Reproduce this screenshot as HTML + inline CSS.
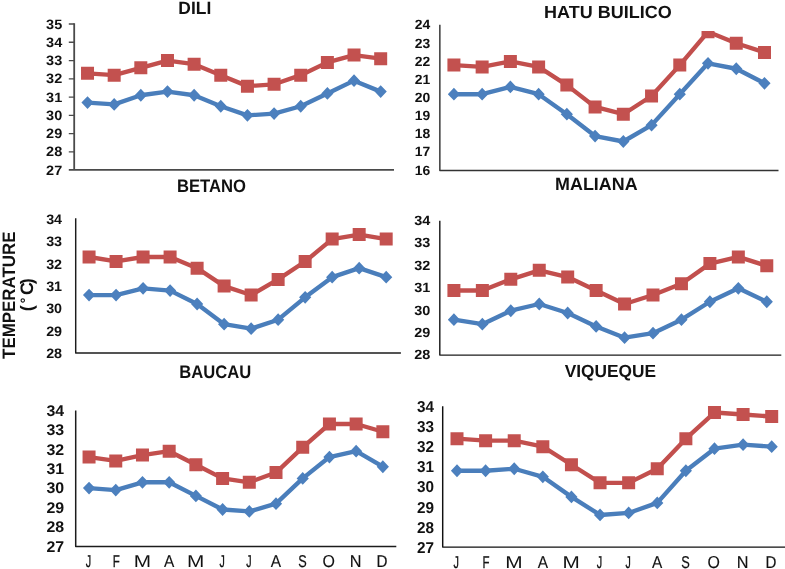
<!DOCTYPE html>
<html lang="en">
<head>
<meta charset="utf-8">
<title>Temperature charts</title>
<style>
html,body{margin:0;padding:0;background:#fff;}
body{width:785px;height:569px;overflow:hidden;}
svg{display:block;font-family:"Liberation Sans", sans-serif;fill:#111;text-rendering:geometricPrecision;filter:blur(0.35px);}
</style>
</head>
<body>
<svg width="785" height="569" viewBox="0 0 785 569">
<rect width="785" height="569" fill="#fff"/>
<g>
<path d="M74.2 23.3V169.9M68.8 169.9H394" fill="none" stroke="#4a4a4a" stroke-width="1.8"/>
<path d="M68.8 151.92H74.2M68.8 133.65H74.2M68.8 115.38H74.2M68.8 97.1H74.2M68.8 78.82H74.2M68.8 60.55H74.2M68.8 42.27H74.2M68.8 24H74.2" fill="none" stroke="#4a4a4a" stroke-width="1.3"/>
<text x="46.13" y="174.55" font-size="13.55" font-weight="bold" textLength="16.11" lengthAdjust="spacingAndGlyphs">27</text>
<text x="46.13" y="156.32" font-size="13.55" font-weight="bold" textLength="16.11" lengthAdjust="spacingAndGlyphs">28</text>
<text x="46.13" y="138.09" font-size="13.55" font-weight="bold" textLength="16.11" lengthAdjust="spacingAndGlyphs">29</text>
<text x="46.13" y="119.86" font-size="13.55" font-weight="bold" textLength="16.11" lengthAdjust="spacingAndGlyphs">30</text>
<text x="46.13" y="101.63" font-size="13.55" font-weight="bold" textLength="16.11" lengthAdjust="spacingAndGlyphs">31</text>
<text x="46.13" y="83.4" font-size="13.55" font-weight="bold" textLength="16.11" lengthAdjust="spacingAndGlyphs">32</text>
<text x="46.13" y="65.17" font-size="13.55" font-weight="bold" textLength="16.11" lengthAdjust="spacingAndGlyphs">33</text>
<text x="46.13" y="46.93" font-size="13.55" font-weight="bold" textLength="16.11" lengthAdjust="spacingAndGlyphs">34</text>
<text x="46.13" y="28.7" font-size="13.55" font-weight="bold" textLength="16.11" lengthAdjust="spacingAndGlyphs">35</text>
<text x="178.36" y="13.6" font-size="17.88" font-weight="bold" textLength="32.9" lengthAdjust="spacingAndGlyphs">DILI</text>
<polyline points="87.53,102.58 114.18,104.41 140.82,95.27 167.48,91.62 194.12,95.27 220.78,106.24 247.43,115.38 274.08,113.55 300.73,106.24 327.38,93.45 354.03,80.65 380.68,91.62" fill="none" stroke="#4A7EBB" stroke-width="4.35" stroke-linejoin="round" stroke-linecap="round"/>
<path d="M87.53 96.18l6.1 6.4l-6.1 6.4l-6.1 -6.4zM114.18 98.01l6.1 6.4l-6.1 6.4l-6.1 -6.4zM140.82 88.87l6.1 6.4l-6.1 6.4l-6.1 -6.4zM167.48 85.22l6.1 6.4l-6.1 6.4l-6.1 -6.4zM194.12 88.87l6.1 6.4l-6.1 6.4l-6.1 -6.4zM220.78 99.84l6.1 6.4l-6.1 6.4l-6.1 -6.4zM247.43 108.97l6.1 6.4l-6.1 6.4l-6.1 -6.4zM274.08 107.15l6.1 6.4l-6.1 6.4l-6.1 -6.4zM300.73 99.84l6.1 6.4l-6.1 6.4l-6.1 -6.4zM327.38 87.05l6.1 6.4l-6.1 6.4l-6.1 -6.4zM354.03 74.25l6.1 6.4l-6.1 6.4l-6.1 -6.4zM380.68 85.22l6.1 6.4l-6.1 6.4l-6.1 -6.4z" fill="#4C80BE"/>
<polyline points="87.53,73.34 114.18,75.17 140.82,67.86 167.48,60.55 194.12,64.21 220.78,75.17 247.43,86.13 274.08,84.31 300.73,75.17 327.38,62.38 354.03,55.07 380.68,58.72" fill="none" stroke="#C24F4D" stroke-width="4.35" stroke-linejoin="round" stroke-linecap="round"/>
<path d="M81.03 66.84h13v13h-13zM107.68 68.67h13v13h-13zM134.32 61.36h13v13h-13zM160.98 54.05h13v13h-13zM187.62 57.71h13v13h-13zM214.28 68.67h13v13h-13zM240.93 79.63h13v13h-13zM267.58 77.81h13v13h-13zM294.23 68.67h13v13h-13zM320.88 55.88h13v13h-13zM347.53 48.57h13v13h-13zM374.18 52.22h13v13h-13z" fill="#C3514F"/>
</g>
<g>
<path d="M439.85 24.8V170.5H778.5" fill="none" stroke="#333" stroke-width="1.45" stroke-linejoin="round"/>
<text x="414.85" y="174.5" font-size="13.41" font-weight="bold" textLength="15.47" lengthAdjust="spacingAndGlyphs">16</text>
<text x="414.85" y="156.37" font-size="13.41" font-weight="bold" textLength="15.47" lengthAdjust="spacingAndGlyphs">17</text>
<text x="414.85" y="138.24" font-size="13.41" font-weight="bold" textLength="15.47" lengthAdjust="spacingAndGlyphs">18</text>
<text x="414.85" y="120.11" font-size="13.41" font-weight="bold" textLength="15.47" lengthAdjust="spacingAndGlyphs">19</text>
<text x="414.85" y="101.98" font-size="13.41" font-weight="bold" textLength="15.47" lengthAdjust="spacingAndGlyphs">20</text>
<text x="414.85" y="83.85" font-size="13.41" font-weight="bold" textLength="15.47" lengthAdjust="spacingAndGlyphs">21</text>
<text x="414.85" y="65.72" font-size="13.41" font-weight="bold" textLength="15.47" lengthAdjust="spacingAndGlyphs">22</text>
<text x="414.85" y="47.59" font-size="13.41" font-weight="bold" textLength="15.47" lengthAdjust="spacingAndGlyphs">23</text>
<text x="414.85" y="29.45" font-size="13.41" font-weight="bold" textLength="15.47" lengthAdjust="spacingAndGlyphs">24</text>
<text x="544.1" y="18.1" font-size="17.6" font-weight="bold" textLength="127.76" lengthAdjust="spacingAndGlyphs">HATU BUILICO</text>
<clipPath id="cp1"><rect x="439.8" y="31.1" width="400" height="200"/></clipPath>
<g clip-path="url(#cp1)"><polyline points="453.92,94.21 482.15,94.21 510.38,86.94 538.62,94.21 566.85,114.22 595.08,136.04 623.32,141.5 651.55,125.13 679.78,94.21 708.02,63.29 736.25,68.75 764.48,83.3" fill="none" stroke="#4A7EBB" stroke-width="4.35" stroke-linejoin="round" stroke-linecap="round"/><path d="M453.92 87.81l6.1 6.4l-6.1 6.4l-6.1 -6.4zM482.15 87.81l6.1 6.4l-6.1 6.4l-6.1 -6.4zM510.38 80.54l6.1 6.4l-6.1 6.4l-6.1 -6.4zM538.62 87.81l6.1 6.4l-6.1 6.4l-6.1 -6.4zM566.85 107.82l6.1 6.4l-6.1 6.4l-6.1 -6.4zM595.08 129.64l6.1 6.4l-6.1 6.4l-6.1 -6.4zM623.32 135.1l6.1 6.4l-6.1 6.4l-6.1 -6.4zM651.55 118.73l6.1 6.4l-6.1 6.4l-6.1 -6.4zM679.78 87.81l6.1 6.4l-6.1 6.4l-6.1 -6.4zM708.02 56.89l6.1 6.4l-6.1 6.4l-6.1 -6.4zM736.25 62.35l6.1 6.4l-6.1 6.4l-6.1 -6.4zM764.48 76.9l6.1 6.4l-6.1 6.4l-6.1 -6.4z" fill="#4C80BE"/><polyline points="453.92,65.11 482.15,66.93 510.38,61.48 538.62,66.93 566.85,85.12 595.08,106.94 623.32,114.22 651.55,96.03 679.78,65.11 708.02,31.83 736.25,43.29 764.48,52.38" fill="none" stroke="#C24F4D" stroke-width="4.35" stroke-linejoin="round" stroke-linecap="round"/><path d="M447.42 58.61h13v13h-13zM475.65 60.43h13v13h-13zM503.88 54.98h13v13h-13zM532.12 60.43h13v13h-13zM560.35 78.62h13v13h-13zM588.58 100.44h13v13h-13zM616.82 107.72h13v13h-13zM645.05 89.53h13v13h-13zM673.28 58.61h13v13h-13zM701.52 25.33h13v13h-13zM729.75 36.79h13v13h-13zM757.98 45.88h13v13h-13z" fill="#C3514F"/></g>
</g>
<g>
<path d="M75.7 218.3V352.9H400.9" fill="none" stroke="#1c1c1c" stroke-width="1.45" stroke-linejoin="round"/>
<text x="46.15" y="358" font-size="13.69" font-weight="bold" textLength="15.95" lengthAdjust="spacingAndGlyphs">28</text>
<text x="46.15" y="335.64" font-size="13.69" font-weight="bold" textLength="15.95" lengthAdjust="spacingAndGlyphs">29</text>
<text x="46.15" y="313.27" font-size="13.69" font-weight="bold" textLength="15.95" lengthAdjust="spacingAndGlyphs">30</text>
<text x="46.15" y="290.9" font-size="13.69" font-weight="bold" textLength="15.95" lengthAdjust="spacingAndGlyphs">31</text>
<text x="46.15" y="268.54" font-size="13.69" font-weight="bold" textLength="15.95" lengthAdjust="spacingAndGlyphs">32</text>
<text x="46.15" y="246.17" font-size="13.69" font-weight="bold" textLength="15.95" lengthAdjust="spacingAndGlyphs">33</text>
<text x="46.15" y="223.8" font-size="13.69" font-weight="bold" textLength="15.95" lengthAdjust="spacingAndGlyphs">34</text>
<text x="176.96" y="191.6" font-size="18.02" font-weight="bold" textLength="69.08" lengthAdjust="spacingAndGlyphs">BETANO</text>
<polyline points="89.06,295.06 116.07,295.06 143.08,288.34 170.09,290.58 197.11,304.02 224.12,324.18 251.13,328.66 278.14,319.7 305.16,297.3 332.17,277.14 359.18,268.18 386.19,277.14" fill="none" stroke="#4A7EBB" stroke-width="4.35" stroke-linejoin="round" stroke-linecap="round"/>
<path d="M89.06 288.66l6.1 6.4l-6.1 6.4l-6.1 -6.4zM116.07 288.66l6.1 6.4l-6.1 6.4l-6.1 -6.4zM143.08 281.94l6.1 6.4l-6.1 6.4l-6.1 -6.4zM170.09 284.18l6.1 6.4l-6.1 6.4l-6.1 -6.4zM197.11 297.62l6.1 6.4l-6.1 6.4l-6.1 -6.4zM224.12 317.78l6.1 6.4l-6.1 6.4l-6.1 -6.4zM251.13 322.26l6.1 6.4l-6.1 6.4l-6.1 -6.4zM278.14 313.3l6.1 6.4l-6.1 6.4l-6.1 -6.4zM305.16 290.9l6.1 6.4l-6.1 6.4l-6.1 -6.4zM332.17 270.74l6.1 6.4l-6.1 6.4l-6.1 -6.4zM359.18 261.78l6.1 6.4l-6.1 6.4l-6.1 -6.4zM386.19 270.74l6.1 6.4l-6.1 6.4l-6.1 -6.4z" fill="#4C80BE"/>
<polyline points="89.06,256.98 116.07,261.46 143.08,256.98 170.09,256.98 197.11,268.18 224.12,286.1 251.13,295.06 278.14,279.38 305.16,261.46 332.17,239.06 359.18,234.58 386.19,239.06" fill="none" stroke="#C24F4D" stroke-width="4.35" stroke-linejoin="round" stroke-linecap="round"/>
<path d="M82.56 250.48h13v13h-13zM109.57 254.96h13v13h-13zM136.58 250.48h13v13h-13zM163.59 250.48h13v13h-13zM190.61 261.68h13v13h-13zM217.62 279.6h13v13h-13zM244.63 288.56h13v13h-13zM271.64 272.88h13v13h-13zM298.66 254.96h13v13h-13zM325.67 232.56h13v13h-13zM352.68 228.08h13v13h-13zM379.69 232.56h13v13h-13z" fill="#C3514F"/>
</g>
<g>
<path d="M439.8 220.8V355.1H781.3" fill="none" stroke="#1c1c1c" stroke-width="1.45" stroke-linejoin="round"/>
<text x="414.35" y="359.4" font-size="13.41" font-weight="bold" textLength="16.07" lengthAdjust="spacingAndGlyphs">28</text>
<text x="414.35" y="337.02" font-size="13.41" font-weight="bold" textLength="16.07" lengthAdjust="spacingAndGlyphs">29</text>
<text x="414.35" y="314.64" font-size="13.41" font-weight="bold" textLength="16.07" lengthAdjust="spacingAndGlyphs">30</text>
<text x="414.35" y="292.25" font-size="13.41" font-weight="bold" textLength="16.07" lengthAdjust="spacingAndGlyphs">31</text>
<text x="414.35" y="269.87" font-size="13.41" font-weight="bold" textLength="16.07" lengthAdjust="spacingAndGlyphs">32</text>
<text x="414.35" y="247.49" font-size="13.41" font-weight="bold" textLength="16.07" lengthAdjust="spacingAndGlyphs">33</text>
<text x="414.35" y="225.1" font-size="13.41" font-weight="bold" textLength="16.07" lengthAdjust="spacingAndGlyphs">34</text>
<text x="555.12" y="190.3" font-size="17.74" font-weight="bold" textLength="82.44" lengthAdjust="spacingAndGlyphs">MALIANA</text>
<polyline points="453.92,319.71 482.36,324.19 510.8,310.73 539.25,304 567.69,312.98 596.13,326.44 624.57,337.65 653.01,333.17 681.45,319.71 709.9,301.76 738.34,288.3 766.78,301.76" fill="none" stroke="#4A7EBB" stroke-width="4.35" stroke-linejoin="round" stroke-linecap="round"/>
<path d="M453.92 313.31l6.1 6.4l-6.1 6.4l-6.1 -6.4zM482.36 317.79l6.1 6.4l-6.1 6.4l-6.1 -6.4zM510.8 304.33l6.1 6.4l-6.1 6.4l-6.1 -6.4zM539.25 297.6l6.1 6.4l-6.1 6.4l-6.1 -6.4zM567.69 306.58l6.1 6.4l-6.1 6.4l-6.1 -6.4zM596.13 320.04l6.1 6.4l-6.1 6.4l-6.1 -6.4zM624.57 331.25l6.1 6.4l-6.1 6.4l-6.1 -6.4zM653.01 326.77l6.1 6.4l-6.1 6.4l-6.1 -6.4zM681.45 313.31l6.1 6.4l-6.1 6.4l-6.1 -6.4zM709.9 295.36l6.1 6.4l-6.1 6.4l-6.1 -6.4zM738.34 281.9l6.1 6.4l-6.1 6.4l-6.1 -6.4zM766.78 295.36l6.1 6.4l-6.1 6.4l-6.1 -6.4z" fill="#4C80BE"/>
<polyline points="453.92,290.54 482.36,290.54 510.8,279.33 539.25,270.35 567.69,277.08 596.13,290.54 624.57,304 653.01,295.03 681.45,283.81 709.9,263.62 738.34,256.89 766.78,265.87" fill="none" stroke="#C24F4D" stroke-width="4.35" stroke-linejoin="round" stroke-linecap="round"/>
<path d="M447.42 284.04h13v13h-13zM475.86 284.04h13v13h-13zM504.3 272.83h13v13h-13zM532.75 263.85h13v13h-13zM561.19 270.58h13v13h-13zM589.63 284.04h13v13h-13zM618.07 297.5h13v13h-13zM646.51 288.53h13v13h-13zM674.95 277.31h13v13h-13zM703.4 257.12h13v13h-13zM731.84 250.39h13v13h-13zM760.28 259.37h13v13h-13z" fill="#C3514F"/>
</g>
<g>
<path d="M75.7 410.4V546.6H396.3" fill="none" stroke="#1c1c1c" stroke-width="1.5" stroke-linejoin="round"/>
<text x="46.45" y="551.64" font-size="15.5" font-weight="bold" textLength="17.73" lengthAdjust="spacingAndGlyphs">27</text>
<text x="46.45" y="532.25" font-size="15.5" font-weight="bold" textLength="17.73" lengthAdjust="spacingAndGlyphs">28</text>
<text x="46.45" y="512.87" font-size="15.5" font-weight="bold" textLength="17.73" lengthAdjust="spacingAndGlyphs">29</text>
<text x="46.45" y="493.48" font-size="15.5" font-weight="bold" textLength="17.73" lengthAdjust="spacingAndGlyphs">30</text>
<text x="46.45" y="474.1" font-size="15.5" font-weight="bold" textLength="17.73" lengthAdjust="spacingAndGlyphs">31</text>
<text x="46.45" y="454.71" font-size="15.5" font-weight="bold" textLength="17.73" lengthAdjust="spacingAndGlyphs">32</text>
<text x="46.45" y="435.32" font-size="15.5" font-weight="bold" textLength="17.73" lengthAdjust="spacingAndGlyphs">33</text>
<text x="46.45" y="415.94" font-size="15.5" font-weight="bold" textLength="17.73" lengthAdjust="spacingAndGlyphs">34</text>
<text x="179.2" y="377.9" font-size="18.16" font-weight="bold" textLength="71.94" lengthAdjust="spacingAndGlyphs">BAUCAU</text>
<polyline points="89.05,488.11 115.76,490.06 142.47,482.29 169.18,482.29 195.89,495.89 222.6,509.49 249.3,511.43 276.01,503.66 302.72,478.4 329.43,457.03 356.14,451.2 382.85,466.74" fill="none" stroke="#4A7EBB" stroke-width="4.35" stroke-linejoin="round" stroke-linecap="round"/>
<path d="M89.05 481.71l6.1 6.4l-6.1 6.4l-6.1 -6.4zM115.76 483.66l6.1 6.4l-6.1 6.4l-6.1 -6.4zM142.47 475.89l6.1 6.4l-6.1 6.4l-6.1 -6.4zM169.18 475.89l6.1 6.4l-6.1 6.4l-6.1 -6.4zM195.89 489.49l6.1 6.4l-6.1 6.4l-6.1 -6.4zM222.6 503.09l6.1 6.4l-6.1 6.4l-6.1 -6.4zM249.3 505.03l6.1 6.4l-6.1 6.4l-6.1 -6.4zM276.01 497.26l6.1 6.4l-6.1 6.4l-6.1 -6.4zM302.72 472l6.1 6.4l-6.1 6.4l-6.1 -6.4zM329.43 450.63l6.1 6.4l-6.1 6.4l-6.1 -6.4zM356.14 444.8l6.1 6.4l-6.1 6.4l-6.1 -6.4zM382.85 460.34l6.1 6.4l-6.1 6.4l-6.1 -6.4z" fill="#4C80BE"/>
<polyline points="89.05,457.03 115.76,460.91 142.47,455.09 169.18,451.2 195.89,464.8 222.6,478.4 249.3,482.29 276.01,472.57 302.72,447.31 329.43,424 356.14,424 382.85,431.77" fill="none" stroke="#C24F4D" stroke-width="4.35" stroke-linejoin="round" stroke-linecap="round"/>
<path d="M82.55 450.53h13v13h-13zM109.26 454.41h13v13h-13zM135.97 448.59h13v13h-13zM162.68 444.7h13v13h-13zM189.39 458.3h13v13h-13zM216.1 471.9h13v13h-13zM242.8 475.79h13v13h-13zM269.51 466.07h13v13h-13zM296.22 440.81h13v13h-13zM322.93 417.5h13v13h-13zM349.64 417.5h13v13h-13zM376.35 425.27h13v13h-13z" fill="#C3514F"/>
<text x="85.74" y="567" font-size="17.2" textLength="5.43" lengthAdjust="spacingAndGlyphs" stroke="#111" stroke-width="0.3">J</text>
<text x="112.65" y="567" font-size="17.2" textLength="7.03" lengthAdjust="spacingAndGlyphs" stroke="#111" stroke-width="0.3">F</text>
<text x="133.7" y="567" font-size="17.2" textLength="17.33" lengthAdjust="spacingAndGlyphs">M</text>
<text x="163.99" y="567" font-size="17.2" textLength="10.31" lengthAdjust="spacingAndGlyphs" stroke="#111" stroke-width="0.1">A</text>
<text x="186.96" y="567" font-size="17.2" textLength="17.32" lengthAdjust="spacingAndGlyphs">M</text>
<text x="219.6" y="567" font-size="17.2" textLength="5.32" lengthAdjust="spacingAndGlyphs" stroke="#111" stroke-width="0.3">J</text>
<text x="246.16" y="567" font-size="17.2" textLength="5.35" lengthAdjust="spacingAndGlyphs" stroke="#111" stroke-width="0.3">J</text>
<text x="270.77" y="567" font-size="17.2" textLength="10.33" lengthAdjust="spacingAndGlyphs" stroke="#111" stroke-width="0.1">A</text>
<text x="298.34" y="567" font-size="17.2" textLength="8.48" lengthAdjust="spacingAndGlyphs" stroke="#111" stroke-width="0.2">S</text>
<text x="322.56" y="567" font-size="17.2" textLength="12.41" lengthAdjust="spacingAndGlyphs" stroke="#111" stroke-width="0.1">O</text>
<text x="349.77" y="567" font-size="17.2" textLength="11.73" lengthAdjust="spacingAndGlyphs" stroke="#111" stroke-width="0.15">N</text>
<text x="376.58" y="567" font-size="17.2" textLength="10.98" lengthAdjust="spacingAndGlyphs" stroke="#111" stroke-width="0.2">D</text>
</g>
<g>
<path d="M442.7 406.2V547.1H786" fill="none" stroke="#111" stroke-width="1.45" stroke-linejoin="round"/>
<text x="417.08" y="552.94" font-size="15.78" font-weight="bold" textLength="17.01" lengthAdjust="spacingAndGlyphs">27</text>
<text x="417.08" y="532.75" font-size="15.78" font-weight="bold" textLength="17.01" lengthAdjust="spacingAndGlyphs">28</text>
<text x="417.08" y="512.57" font-size="15.78" font-weight="bold" textLength="17.01" lengthAdjust="spacingAndGlyphs">29</text>
<text x="417.08" y="492.38" font-size="15.78" font-weight="bold" textLength="17.01" lengthAdjust="spacingAndGlyphs">30</text>
<text x="417.08" y="472.19" font-size="15.78" font-weight="bold" textLength="17.01" lengthAdjust="spacingAndGlyphs">31</text>
<text x="417.08" y="452.01" font-size="15.78" font-weight="bold" textLength="17.01" lengthAdjust="spacingAndGlyphs">32</text>
<text x="417.08" y="431.82" font-size="15.78" font-weight="bold" textLength="17.01" lengthAdjust="spacingAndGlyphs">33</text>
<text x="417.08" y="411.64" font-size="15.78" font-weight="bold" textLength="17.01" lengthAdjust="spacingAndGlyphs">34</text>
<text x="564.78" y="377.3" font-size="17.6" font-weight="bold" textLength="91.33" lengthAdjust="spacingAndGlyphs">VIQUEQUE</text>
<polyline points="457,470.77 485.61,470.77 514.22,468.77 542.83,476.8 571.44,496.89 600.05,514.96 628.65,512.95 657.26,502.91 685.87,470.77 714.48,448.68 743.09,444.66 771.7,446.67" fill="none" stroke="#4A7EBB" stroke-width="4.35" stroke-linejoin="round" stroke-linecap="round"/>
<path d="M457 464.37l6.1 6.4l-6.1 6.4l-6.1 -6.4zM485.61 464.37l6.1 6.4l-6.1 6.4l-6.1 -6.4zM514.22 462.37l6.1 6.4l-6.1 6.4l-6.1 -6.4zM542.83 470.4l6.1 6.4l-6.1 6.4l-6.1 -6.4zM571.44 490.49l6.1 6.4l-6.1 6.4l-6.1 -6.4zM600.05 508.56l6.1 6.4l-6.1 6.4l-6.1 -6.4zM628.65 506.55l6.1 6.4l-6.1 6.4l-6.1 -6.4zM657.26 496.51l6.1 6.4l-6.1 6.4l-6.1 -6.4zM685.87 464.37l6.1 6.4l-6.1 6.4l-6.1 -6.4zM714.48 442.28l6.1 6.4l-6.1 6.4l-6.1 -6.4zM743.09 438.26l6.1 6.4l-6.1 6.4l-6.1 -6.4zM771.7 440.27l6.1 6.4l-6.1 6.4l-6.1 -6.4z" fill="#4C80BE"/>
<polyline points="457,438.64 485.61,440.65 514.22,440.65 542.83,446.67 571.44,464.75 600.05,482.83 628.65,482.83 657.26,468.77 685.87,438.64 714.48,412.53 743.09,414.53 771.7,416.54" fill="none" stroke="#C24F4D" stroke-width="4.35" stroke-linejoin="round" stroke-linecap="round"/>
<path d="M450.5 432.14h13v13h-13zM479.11 434.15h13v13h-13zM507.72 434.15h13v13h-13zM536.33 440.17h13v13h-13zM564.94 458.25h13v13h-13zM593.55 476.33h13v13h-13zM622.15 476.33h13v13h-13zM650.76 462.27h13v13h-13zM679.37 432.14h13v13h-13zM707.98 406.03h13v13h-13zM736.59 408.03h13v13h-13zM765.2 410.04h13v13h-13z" fill="#C3514F"/>
<text x="453.61" y="567.5" font-size="17.2" textLength="5.45" lengthAdjust="spacingAndGlyphs" stroke="#111" stroke-width="0.3">J</text>
<text x="482.48" y="567.5" font-size="17.2" textLength="7.02" lengthAdjust="spacingAndGlyphs" stroke="#111" stroke-width="0.3">F</text>
<text x="505.39" y="567.5" font-size="17.2" textLength="17.36" lengthAdjust="spacingAndGlyphs">M</text>
<text x="537.65" y="567.5" font-size="17.2" textLength="10.31" lengthAdjust="spacingAndGlyphs" stroke="#111" stroke-width="0.1">A</text>
<text x="562.55" y="567.5" font-size="17.2" textLength="17.29" lengthAdjust="spacingAndGlyphs">M</text>
<text x="596.8" y="567.5" font-size="17.2" textLength="5.45" lengthAdjust="spacingAndGlyphs" stroke="#111" stroke-width="0.3">J</text>
<text x="625.54" y="567.5" font-size="17.2" textLength="5.32" lengthAdjust="spacingAndGlyphs" stroke="#111" stroke-width="0.3">J</text>
<text x="651.89" y="567.5" font-size="17.2" textLength="10.29" lengthAdjust="spacingAndGlyphs" stroke="#111" stroke-width="0.1">A</text>
<text x="681.32" y="567.5" font-size="17.2" textLength="8.56" lengthAdjust="spacingAndGlyphs" stroke="#111" stroke-width="0.2">S</text>
<text x="707.59" y="567.5" font-size="17.2" textLength="12.38" lengthAdjust="spacingAndGlyphs" stroke="#111" stroke-width="0.1">O</text>
<text x="736.72" y="567.5" font-size="17.2" textLength="11.73" lengthAdjust="spacingAndGlyphs" stroke="#111" stroke-width="0.15">N</text>
<text x="765.51" y="567.5" font-size="17.2" textLength="10.9" lengthAdjust="spacingAndGlyphs" stroke="#111" stroke-width="0.2">D</text>
</g>
<text transform="translate(14.6,358.9) rotate(-90)" font-size="18.02" font-weight="bold" textLength="127.4" lengthAdjust="spacingAndGlyphs">TEMPERATURE</text>
<text transform="translate(32.9,311.2) rotate(-90)" font-size="18.02" font-weight="bold" x="0 8.1 16.2 26.9" y="0 2.2 0 0">(˚C)</text>
</svg>
</body>
</html>
